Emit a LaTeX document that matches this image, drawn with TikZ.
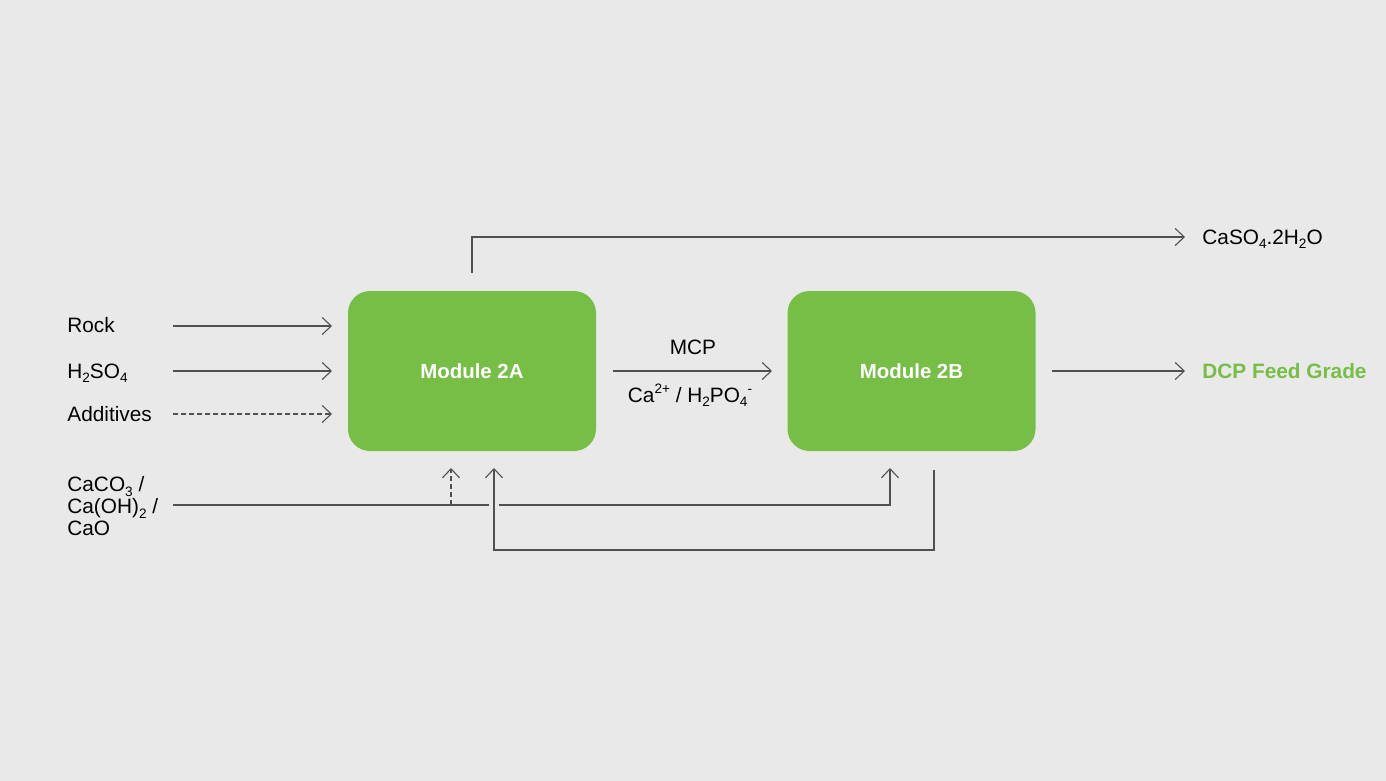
\documentclass[tikz,border=0pt]{standalone}
\usepackage{fontspec}
\setmainfont{Liberation Sans}
\usepackage{tikz}
\usetikzlibrary{arrows.meta}
\definecolor{bg}{HTML}{E9E9E9}
\definecolor{modgreen}{HTML}{77BE46}
\definecolor{wire}{HTML}{505050}
\newcommand{\chsub}[1]{\raisebox{-0.45ex}{\fontsize{6.8}{7}\selectfont #1}}
\newcommand{\chsup}[1]{\raisebox{0.75ex}{\fontsize{6.8}{7}\selectfont #1}}
\tikzset{
  module/.style={fill=modgreen,rounded corners=11pt,minimum width=124pt,
    minimum height=80pt,text=white,font=\fontsize{10.2}{12}\selectfont\bfseries},
  flow/.style={draw=wire,line width=0.55pt,-{Straight Barb[length=4.5pt,width=8.5pt]}},
  pipe/.style={draw=wire,line width=0.55pt},
  dashflow/.style={flow,dash pattern=on 2.5pt off 1.5pt},
  lbl/.style={inner sep=0pt,font=\fontsize{10.4}{10.8}\selectfont},
}
\begin{document}
\begin{tikzpicture}[x=0.5pt,y=-0.5pt]
\fill[bg] (0,0) rectangle (1386,781);
\useasboundingbox (0,0) rectangle (1386,781);

% modules
\node[module] (m2a) at (472,371) {Module 2A};
\node[module] (m2b) at (911.5,371) {Module 2B};

% labels
\node[lbl,anchor=base west] (rock) at (67,332) {Rock};
\node[lbl,anchor=base west] (acid) at (67,378) {H\chsub{2}SO\chsub{4}};
\node[lbl,anchor=base west] (addv) at (67,421) {Additives};
\node[lbl,anchor=west,align=left] (lime) at (67,506)
  {CaCO\chsub{3} /\\Ca(OH)\chsub{2} /\\CaO};
\node[lbl,anchor=base] (mcp) at (693,354) {MCP};
\node[lbl,anchor=base] (ions) at (690,402)
  {Ca\chsup{2+} / H\chsub{2}PO\chsub{4}\chsup{-}};
\node[lbl,anchor=base west] (gyp) at (1202,244) {CaSO\chsub{4}.2H\chsub{2}O};
\node[lbl,anchor=base west,text=modgreen,font=\fontsize{10.4}{12}\selectfont\bfseries]
  (dcp) at (1202,378) {DCP Feed Grade};

% connector ends
\coordinate (rockS) at (173,326);  \coordinate (rockE) at (332,326);
\coordinate (acidS) at (173,371);  \coordinate (acidE) at (332,371);
\coordinate (addvS) at (173,414);  \coordinate (addvE) at (332,414);
\coordinate (limeS) at (173,505);  \coordinate (gapL) at (489,505);
\coordinate (gapR) at (499,505);   \coordinate (limeK) at (890,505);
\coordinate (limeE) at (890,468);
\coordinate (brS) at (451,505);    \coordinate (brE) at (451,468);
\coordinate (recS) at (934,470);   \coordinate (recK1) at (934,550);
\coordinate (recK2) at (494,550);  \coordinate (recE) at (494,468);
\coordinate (gypS) at (472,273);   \coordinate (gypK) at (472,237);
\coordinate (gypE) at (1185,237);
\coordinate (mcpS) at (613,371);   \coordinate (mcpE) at (772,371);
\coordinate (outS) at (1052,371);  \coordinate (outE) at (1185,371);

% feeds into 2A
\draw[flow] (rockS) -- (rockE);
\draw[flow] (acidS) -- (acidE);
\draw[dashflow] (addvS) -- (addvE);

% lime line
\draw[pipe] (limeS) -- (gapL);
\draw[flow] (gapR) -- (limeK) -- (limeE);
\draw[dashflow] (brS) -- (brE);

% recycle
\draw[flow] (recS) -- (recK1) -- (recK2) -- (recE);

% gypsum out
\draw[flow] (gypS) -- (gypK) -- (gypE);

% 2A to 2B, product
\draw[flow] (mcpS) -- (mcpE);
\draw[flow] (outS) -- (outE);
\end{tikzpicture}
\end{document}
